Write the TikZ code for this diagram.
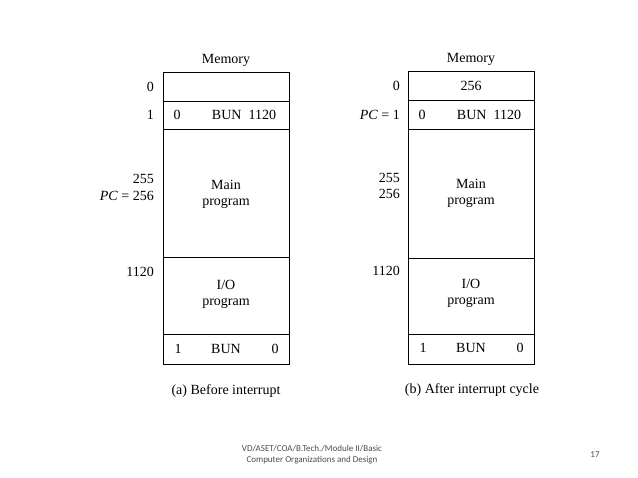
\documentclass[tikz,border=0pt]{standalone}
\usepackage{fontspec}
\setmainfont{Liberation Serif}
\newfontfamily\foot{Carlito}
\begin{document}
\begin{tikzpicture}[x=1pt,y=-1pt,
  box/.style={draw,line width=1.2pt,minimum width=126pt,inner sep=0pt,anchor=north west},
  t/.style={font=\fontsize{14}{16}\selectfont,inner sep=0pt},
  lab/.style={font=\fontsize{14}{16}\selectfont,inner sep=0pt,anchor=east},
  ft/.style={font=\foot\fontsize{9}{11}\selectfont,text=black!70,align=center}]
\useasboundingbox (0,0) rectangle (638,478);
% left
\node[box,minimum height=29pt] (a0) at (163,72) {};
\node[box,minimum height=28pt] (a1) at (163,101) {};
\node[box,minimum height=128pt] (a2) at (163,129) {};
\node[box,minimum height=77pt] (a3) at (163,257) {};
\node[box,minimum height=30pt] (a4) at (163,334) {};
\node[t] (am) at (226,60) {Memory};
\node[t] at (177,115) {0};
\node[t] at (244,115) {BUN\ \ 1120};
\node[t,align=center] at (226,194) {Main\\program};
\node[t,align=center] at (226,294) {I/O\\program};
\node[t] at (178,349) {1};
\node[t] at (226,349) {BUN};
\node[t] at (275,349) {0};
\node[lab] at (154,87) {0};
\node[lab] at (154,115) {1};
\node[lab] at (154,179) {255};
\node[lab] at (154,196) {\textit{PC} = 256};
\node[lab] at (154,272) {1120};
\node[t] (ca) at (226,391) {(a) Before interrupt};
% right
\node[box,minimum height=29pt] (b0) at (408,71) {};
\node[box,minimum height=29pt] (b1) at (408,100) {};
\node[box,minimum height=129pt] (b2) at (408,129) {};
\node[box,minimum height=76pt] (b3) at (408,258) {};
\node[box,minimum height=30pt] (b4) at (408,334) {};
\node[t] (bm) at (471,59) {Memory};
\node[t] at (471,86) {256};
\node[t] at (422,115) {0};
\node[t] at (489,115) {BUN\ \ 1120};
\node[t,align=center] at (471,193) {Main\\program};
\node[t,align=center] at (471,293) {I/O\\program};
\node[t] at (423,348) {1};
\node[t] at (471,348) {BUN};
\node[t] at (520,348) {0};
\node[lab] at (400,86) {0};
\node[lab] at (400,115) {\textit{PC} = 1};
\node[lab] at (400,178) {255};
\node[lab] at (400,194) {256};
\node[lab] at (400,271) {1120};
\node[t] (cb) at (472,390) {(b) After interrupt cycle};
% footer
\node[ft] (f) at (312,455) {VD/ASET/COA/B.Tech./Module II/Basic\\Computer Organizations and Design};
\node[ft] (n) at (595,455) {17};
\end{tikzpicture}
\end{document}
